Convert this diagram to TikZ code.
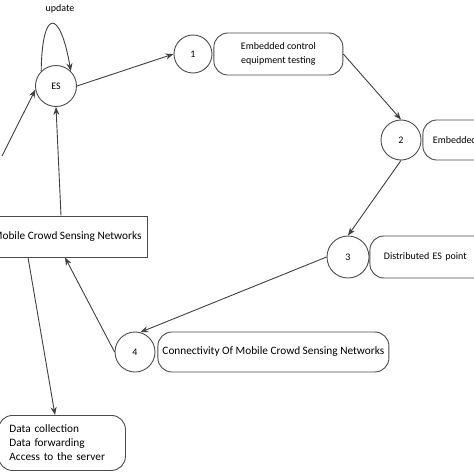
\documentclass[tikz,border=0pt]{standalone}
\usepackage{fontspec}
\setmainfont{Carlito}
\usepackage{tikz}
\usetikzlibrary{shapes.geometric, arrows.meta, positioning}
\tikzstyle{arrow} = [black!75,->,>={Stealth[length=8pt,width=6pt]}]
\tikzstyle{num} = [circle, draw=black!70, minimum size=40pt, inner sep=0pt]
\tikzstyle{stage} = [rectangle, rounded corners=14pt, draw=black!70, minimum height=41pt, align=center, inner sep=0pt]
\tikzstyle{big} = [font=\fontsize{11.3}{14}\selectfont]

\begin{document}
\begin{tikzpicture}[x=1pt,y=-1pt,line width=0.9pt,font=\fontsize{10}{14.5}\selectfont]
	
	%Background
	\useasboundingbox (0,0) rectangle (474,474);
	\fill [white] (0,0) rectangle (474,474);
	\clip (0,0) rectangle (474,474);
	
	% Circles:
	\node[num, minimum size=41pt] (es) at (56,86) {ES};
	\node[num, minimum size=38pt] (c1) at (193,54) {1};
	\node[num] (c2) at (401,140) {2};
	\node[num, minimum size=42pt] (c3) at (348,257) {3};
	\node[num] (c4) at (135,352) {4};
	
	% Stages next to the circles:
	\node[stage, right=1pt of c1, minimum width=129pt, minimum height=42pt] (b1) {Embedded control\\equipment testing};
	\node[stage, right=1pt of c2, text width=120pt, inner xsep=10pt, minimum height=40pt, align=left] (b2) {Embedded};
	\node[stage, right=0pt of c3, text width=110pt, inner xsep=14pt, minimum height=42pt, align=left] (b3) {Distributed ES point};
	\node[stage, big, right=2pt of c4, minimum width=231pt, minimum height=40pt] (b4) {Connectivity Of Mobile Crowd Sensing Networks};
	
	% Networks and data:
	\node[rectangle, big, draw=black!70, minimum height=41pt, inner xsep=6pt, anchor=east] (mcsn) at (148,236.5) {Mobile Crowd Sensing Networks};
	\node[stage, big, anchor=north west, minimum height=55pt, text width=105pt, inner xsep=11pt, align=left] (data) at (-2,415) {Data collection\\Data forwarding\\Access to the server};
	
	\node (upd) at (60,9) {update};
	
	% Connectors:
	\draw[arrow] (es.east) -- (c1.west);
	\draw[arrow] (b1.east) -- (c2.north);
	\draw[arrow] (c2.south) -- (c3.north);
	\draw[arrow] (c3.west) -- (c4.75);
	\draw[arrow] (c4.west) -- ([xshift=-83pt]mcsn.south east);
	\draw[arrow] ([xshift=-87pt]mcsn.north east) -- (es.south);
	\draw[arrow] ([xshift=-120pt]mcsn.south east) -- ([xshift=57pt]data.north west);
	\coordinate (lft) at (2,156);
	\draw[arrow] (lft) -- (es.190);
	\draw[arrow] (es.135) .. controls (42,8) and (60,8) .. (es.45);
	
\end{tikzpicture}
\end{document}
